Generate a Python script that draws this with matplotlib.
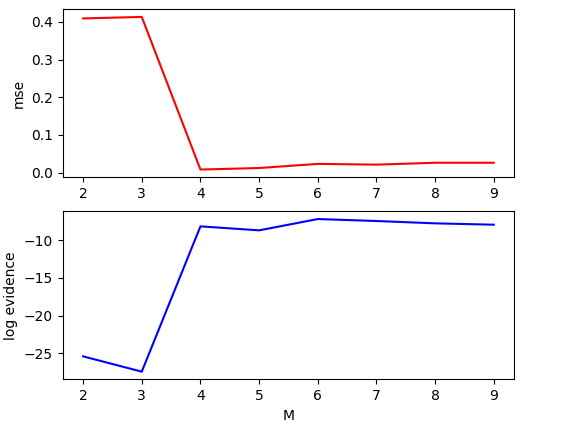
import matplotlib
matplotlib.use("Agg")
import matplotlib.pyplot as plt

M = [2, 3, 4, 5, 6, 7, 8, 9]
mse = [0.409, 0.413, 0.008, 0.012, 0.023, 0.021, 0.026, 0.026]
log_evidence = [-25.4, -27.43, -8.15, -8.68, -7.18, -7.44, -7.75, -7.93]

fig, (ax1, ax2) = plt.subplots(2, 1, figsize=(5.74, 4.32), dpi=100)
fig.subplots_adjust(left=0.109, right=0.896, top=0.9785, bottom=0.122, hspace=0.204)

ax1.plot(M, mse, color="red")
ax1.set_ylabel("mse")
ax1.set_yticks([0.0, 0.1, 0.2, 0.3, 0.4])

ax2.plot(M, log_evidence, color="blue")
ax2.set_ylabel("log evidence")
ax2.set_xlabel("M")

fig.savefig("out.png", dpi=100)
